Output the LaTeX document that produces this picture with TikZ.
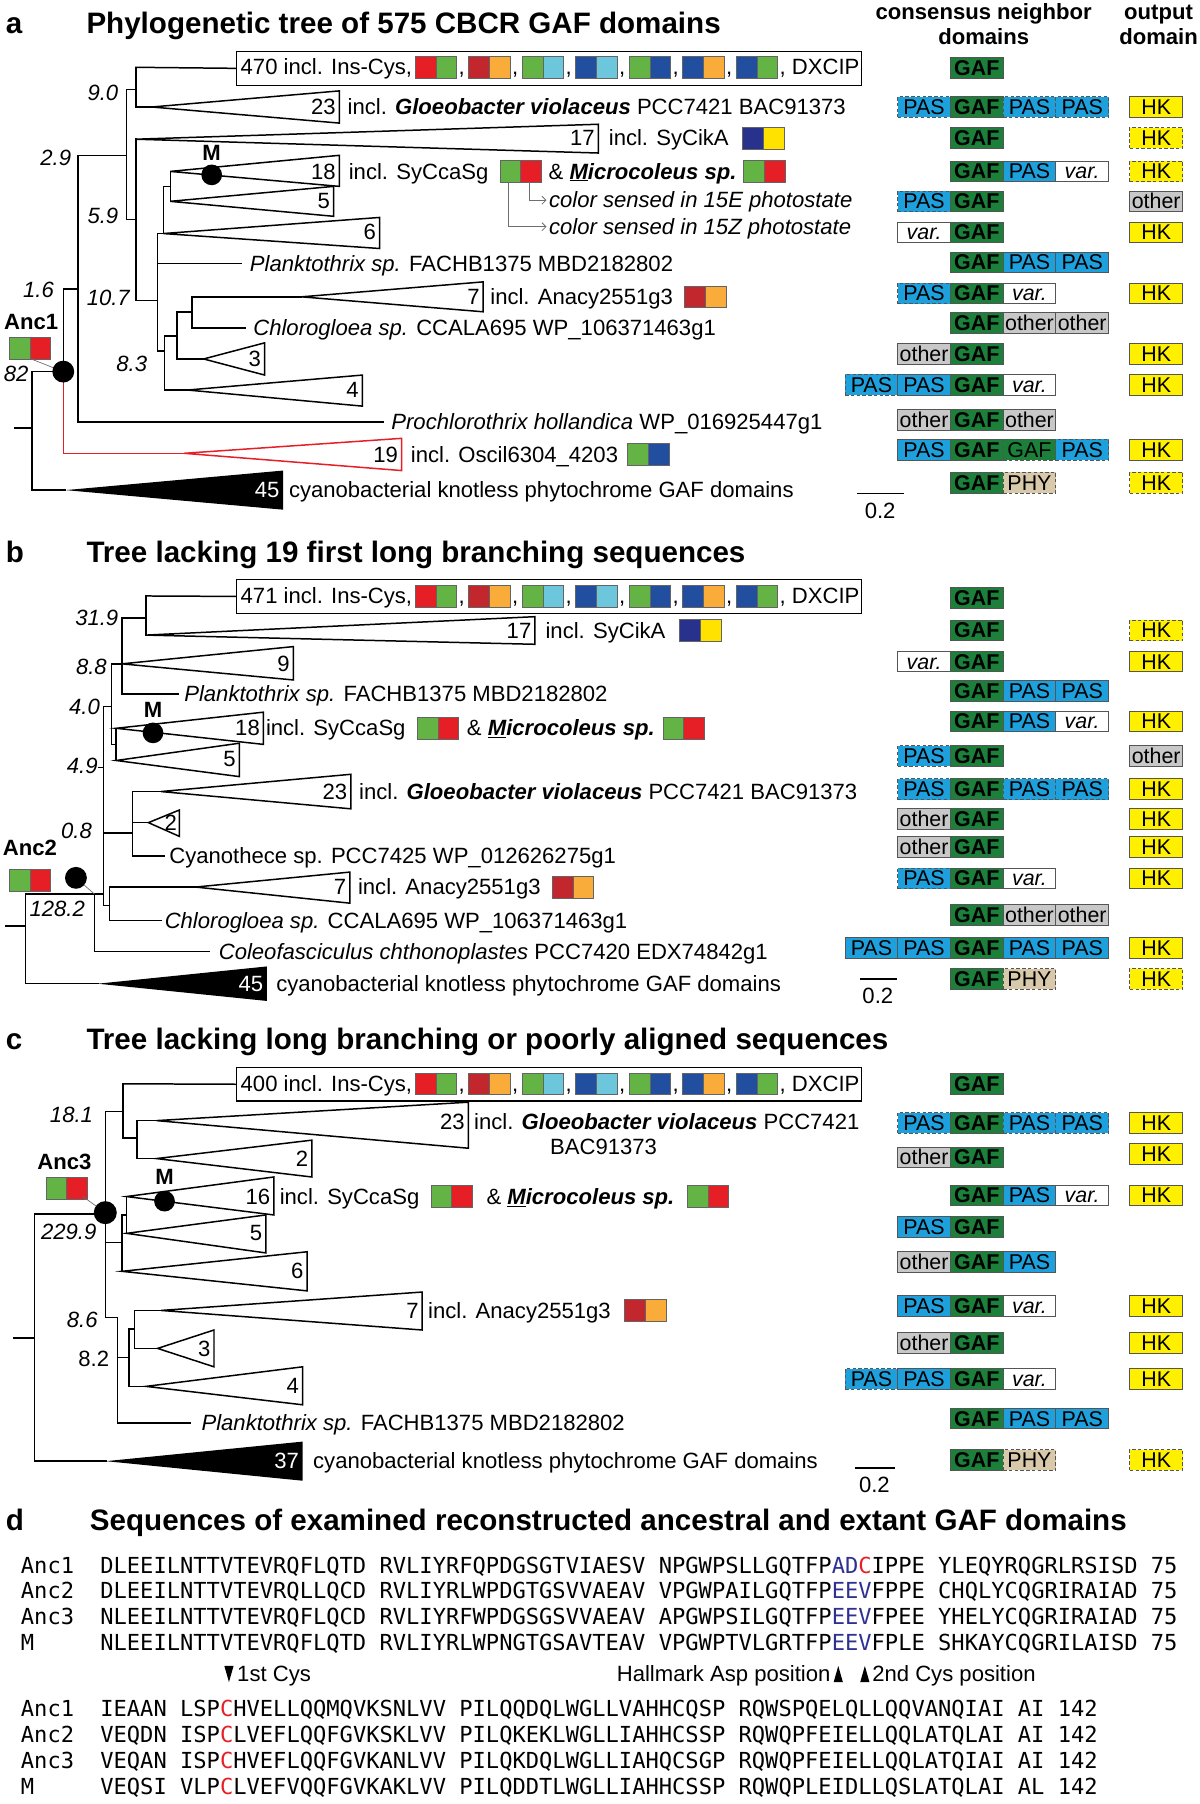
\documentclass[tikz,border=0pt]{standalone}
\usepackage{fontspec}
\setmainfont{Liberation Sans}
\newfontfamily\seqfont{DejaVu Sans Mono}
\usetikzlibrary{calc,arrows.meta}
\definecolor{redC}{RGB}{230,31,39}
\definecolor{greenC}{RGB}{99,180,68}
\definecolor{dredC}{RGB}{193,39,45}
\definecolor{orangeC}{RGB}{249,172,58}
\definecolor{lblueC}{RGB}{108,199,220}
\definecolor{blueC}{RGB}{33,78,158}
\definecolor{navyC}{RGB}{40,50,140}
\definecolor{yellowC}{RGB}{255,226,0}
\definecolor{gafC}{RGB}{28,128,58}
\definecolor{pasC}{RGB}{30,160,220}
\definecolor{othC}{RGB}{200,200,200}
\definecolor{phyC}{RGB}{216,201,170}
\definecolor{hkC}{RGB}{255,240,0}
\definecolor{bordC}{RGB}{85,85,85}
\definecolor{swbC}{RGB}{100,100,100}
\definecolor{seqB}{RGB}{46,49,146}
\definecolor{seqR}{RGB}{230,31,39}
\definecolor{leadC}{RGB}{110,110,110}
\newcommand\fsz{\fontsize{19.2pt}{23pt}\selectfont}
\newcommand\fsd{\fontsize{18.6pt}{22pt}\selectfont}
\newcommand\fttl{\fontsize{25.7pt}{30pt}\selectfont\bfseries}
\newcount\dc
\newcommand\db[4]{\global\advance\dc by 1\relax\node[#1, name=dm\the\dc] at ({826.1+45.8*(#2)},#3) {#4};}
\newcommand\hb[3]{\global\advance\dc by 1\relax\node[#1, name=hk\the\dc] at (982,#2) {#3};}
\newcommand\swat[4]{%
 \fill[#3] ($(#1)+(#2,-9.5)$) rectangle ++(18,19);
 \fill[#4] ($(#1)+(#2+18,-9.5)$) rectangle ++(18,19);
 \draw[swb] ($(#1)+(#2,-9.5)$) rectangle ++(36,19);
 \draw[swb] ($(#1)+(#2+18,-9.5)$) -- ++(0,19);
 \coordinate (swend) at ($(#1)+(#2+36,0)$);}
\newcommand\inscys[1]{%
 \swat{361,#1}{0}{redC}{greenC}\node[t] at (398.5,#1) {,};
 \swat{407.5,#1}{0}{dredC}{orangeC}\node[t] at (445,#1) {,};
 \swat{454,#1}{0}{greenC}{lblueC}\node[t] at (491.5,#1) {,};
 \swat{500.5,#1}{0}{blueC}{lblueC}\node[t] at (538,#1) {,};
 \swat{547,#1}{0}{greenC}{blueC}\node[t] at (584.5,#1) {,};
 \swat{593.5,#1}{0}{blueC}{orangeC}\node[t] at (631,#1) {,};
 \swat{640,#1}{0}{blueC}{greenC}\node[t] at (677.5,#1) {, DXCIP};}
\newcommand\micro{\& \textbf{\textit{\underline{M}icrocoleus sp.}}}
\newcommand\gloeo{incl. \textbf{\textit{Gloeobacter violaceus}} PCC7421}
\begin{document}
\begin{tikzpicture}[x=1pt,y=-1pt,font=\fsz,
 autoname/.code={\global\advance\dc by 1\relax\pgfkeysalso{name=n\the\dc}},
 t/.style={anchor=west,inner sep=0pt,text height=13.2pt,text depth=0pt,autoname},
 te/.style={t,anchor=east},
 bsl/.style={te,font=\fsz\itshape},
 hd/.style={anchor=center,inner sep=0pt,text height=13.2pt,text depth=0pt,font=\fsz\bfseries,autoname},
 ttl/.style={anchor=west,inner sep=0pt,text height=17.7pt,text depth=0pt,font=\fttl,autoname},
 tl/.style={line width=1.3pt,line cap=rect,line join=miter},
 tri/.style={draw=black,line width=1.3pt,fill=white,line join=miter},
 blk/.style={fill=black},
 boxst/.style={draw=black,line width=1.3pt,minimum width=543pt,minimum height=29.5pt,anchor=north west,inner sep=0pt},
 bdot/.style={circle,fill=black,inner sep=0pt,minimum size=18pt},
 lead/.style={draw=leadC,line width=0.6pt},
 swb/.style={draw=swbC,line width=0.6pt},
 arr/.style={draw=leadC,line width=0.7pt,-{Straight Barb[length=3.5pt,width=7pt]},shorten >=2pt},
 dsh/.style={dash pattern=on 3pt off 2pt},
 dom/.style={draw=bordC,line width=0.8pt,minimum width=45.8pt,minimum height=18pt,inner sep=0pt,outer sep=0pt,text height=13pt,text depth=0pt,anchor=west,font=\fsd},
 gaf/.style={dom,fill=gafC,font=\fsd\bfseries},
 gafd/.style={dom,fill=gafC,dsh},
 pas/.style={dom,fill=pasC},
 pasd/.style={pas,dsh},
 oth/.style={dom,fill=othC},
 var/.style={dom,fill=white,font=\fsd\itshape},
 phy/.style={dom,fill=phyC,dsh},
 hk/.style={dom,fill=hkC,minimum width=46pt},
 hkd/.style={hk,dsh},
 sq/.style={anchor=west,inner sep=0pt,text height=13.5pt,text depth=0pt,font={\seqfont\fontsize{19.2pt}{23pt}\selectfont},autoname}]
\fill[white] (0,0) rectangle (1043,1568);
\useasboundingbox (0,0) rectangle (1043,1568);

% ---------------- headers
\node[hd] at (855,10) {consensus neighbor};
\node[hd] at (855,32) {domains};
\node[hd] at (1007,10) {output};
\node[hd] at (1007,32) {domain};

% ================= PANEL A
\node[ttl] at (5,20) {a};
\node[ttl] at (75,20) {Phylogenetic tree of 575 CBCR GAF domains};
\node[boxst,name=boxa] at (205,44) {};
\node[t] at (209,58.5) {470 incl. Ins-Cys,};
\inscys{58.5}
% tree lines
\draw[tl] (13,372)--(28,372);
\draw[tl] (28,323)--(28,426);
\draw[tl] (28,323)--(55,323);
\draw[tl] (28,426)--(57,426);
\fill[blk] (57,426)--(246,409)--(246,443)--cycle;
\draw[tl] (55,251)--(55,323);
\draw[tl,draw=redC] (55,323)--(55,394)--(160,394);
\draw[tri,draw=redC] (160,394)--(349,381)--(349,409)--cycle;
\draw[tl] (55,251)--(68,251);
\draw[tl] (68,135)--(68,367)--(333,367);
\draw[tl] (68,135)--(110,135);
\draw[tl] (110,78)--(110,191);
\draw[tl] (110,78)--(118,78);
\draw[tl] (118,58.5)--(118,93);
\draw[tl] (118,58.5)--(boxa.west);
\draw[tl] (118,93)--(132,93);
\draw[tri] (132,93)--(295,79)--(295,107)--cycle;
\draw[tl] (110,191)--(118,191);
\draw[tl] (118,121)--(118,261);
\draw[tri] (118,121)--(520,108)--(520,133)--cycle;
\draw[tl] (118,261)--(137,261);
\draw[tl] (137,203)--(137,305);
\draw[tl] (137,203)--(142,203);
\draw[tl] (142,162)--(142,203);
\draw[tri] (142,203)--(330,189)--(330,216)--cycle;
\draw[tl] (142,162)--(148,162);
\draw[tl] (148,149)--(148,175);
\draw[tri] (148,149)--(295,135)--(295,162)--cycle;
\draw[tri] (148,175)--(290,162)--(290,188)--cycle;
\draw[tl] (137,229)--(210,229);
\draw[tl] (137,305)--(143,305);
\draw[tl] (143,292)--(143,339);
\draw[tl] (143,292)--(154,292);
\draw[tl] (154,271)--(154,312);
\draw[tl] (154,271)--(167,271);
\draw[tl] (167,258)--(167,285);
\draw[tl] (167,258)--(262,258);
\draw[tri] (262,258)--(420,245)--(420,271)--cycle;
\draw[tl] (167,285)--(213,285);
\draw[tl] (154,312)--(177,312);
\draw[tri] (177,312)--(230,298)--(230,326)--cycle;
\draw[tl] (143,339)--(163,339);
\draw[tri] (163,339)--(315,326)--(315,353)--cycle;
% dots
\node[bdot,name=mdota] at (184,152) {};
\node[hd] at (184,133) {M};
\node[bdot,name=anc1d,minimum size=19pt] at (55,323) {};
\node[hd,name=anc1l] at (27,280) {Anc1};
\swat{8,302.5}{0}{greenC}{redC}
\draw[lead] (27,312)--(anc1d);
% bootstrap
\node[bsl] at (103,81) {9.0};
\node[bsl] at (62,137) {2.9};
\node[bsl] at (103,188) {5.9};
\node[bsl] at (47,252) {1.6};
\node[bsl] at (113,259) {10.7};
\node[bsl] at (128,316) {8.3};
\node[bsl] at (25,325) {82};
% labels
\node[te] at (292,93) {23};
\node[t] at (302,93) {\gloeo{} BAC91373};
\node[te] at (517,120) {17};
\node[t,name=a17t] at (529,120) {incl. SyCikA};
\swat{a17t.east}{12}{navyC}{yellowC}
\node[te] at (292,149) {18};
\node[t,name=a18t] at (303,149) {incl. SyCcaSg};
\swat{a18t.east}{10}{greenC}{redC}
\node[t,name=a18m] at ($(swend)+(6,0)$) {\micro};
\swat{a18m.east}{6}{greenC}{redC}
\node[t,name=c15e,font=\fsz\itshape] at (477,174) {color sensed in 15E photostate};
\node[t,name=c15z,font=\fsz\itshape] at (477,197) {color sensed in 15Z photostate};
\draw[arr] (460,158.5) |- (c15e.west);
\draw[arr] (442,158.5) |- (c15z.west);
\node[te] at (287,175) {5};
\node[te] at (327,202) {6};
\node[t] at (217,229) {\textit{Planktothrix sp.} FACHB1375 MBD2182802};
\node[te] at (417,258) {7};
\node[t,name=a7t] at (426,258) {incl. Anacy2551g3};
\swat{a7t.east}{10}{dredC}{orangeC}
\node[t] at (220,285) {\textit{Chlorogloea sp.} CCALA695 WP\_106371463g1};
\node[te] at (227,312) {3};
\node[te] at (312,339) {4};
\node[t] at (340,367) {\textit{Prochlorothrix hollandica} WP\_016925447g1};
\node[te] at (346,395) {19};
\node[t,name=a19t] at (357,395) {incl. Oscil6304\_4203};
\swat{a19t.east}{8}{greenC}{blueC}
\node[te,text=white] at (243,426) {45};
\node[t] at (251,426) {cyanobacterial knotless phytochrome GAF domains};
% scale bar
\draw[line width=1.3pt] (745,429)--(786,429);
\node[hd,font=\fsz] at (765,444) {0.2};
% domains a
\db{gaf}{0}{59}{GAF}
\db{pasd}{-1}{93}{PAS}\db{gaf}{0}{93}{GAF}\db{pasd}{1}{93}{PAS}\db{pasd}{2}{93}{PAS}\hb{hk}{93}{HK}
\db{gaf}{0}{120}{GAF}\hb{hkd}{120}{HK}
\db{gaf}{0}{149}{GAF}\db{pas}{1}{149}{PAS}\db{var}{2}{149}{var.}\hb{hkd}{149}{HK}
\db{pasd}{-1}{175}{PAS}\db{gaf}{0}{175}{GAF}\hb{oth}{175}{other}
\db{var}{-1}{202}{var.}\db{gaf}{0}{202}{GAF}\hb{hk}{202}{HK}
\db{gaf}{0}{228}{GAF}\db{pas}{1}{228}{PAS}\db{pas}{2}{228}{PAS}
\db{pasd}{-1}{255}{PAS}\db{gaf}{0}{255}{GAF}\db{var}{1}{255}{var.}\hb{hk}{255}{HK}
\db{gaf}{0}{281}{GAF}\db{oth}{1}{281}{other}\db{oth}{2}{281}{other}
\db{oth}{-1}{307.5}{other}\db{gaf}{0}{307.5}{GAF}\hb{hk}{307.5}{HK}
\db{pasd}{-2}{334.5}{PAS}\db{pas}{-1}{334.5}{PAS}\db{gaf}{0}{334.5}{GAF}\db{var}{1}{334.5}{var.}\hb{hk}{334.5}{HK}
\db{oth}{-1}{365}{other}\db{gaf}{0}{365}{GAF}\db{oth}{1}{365}{other}
\db{pas}{-1}{391}{PAS}\db{gaf}{0}{391}{GAF}\db{gafd}{1}{391}{GAF}\db{pasd}{2}{391}{PAS}\hb{hk}{391}{HK}
\db{gaf}{0}{419.5}{GAF}\db{phy}{1}{419.5}{PHY}\hb{hkd}{419.5}{HK}

% ================= PANEL B
\node[ttl] at (5,480) {b};
\node[ttl] at (75,480) {Tree lacking 19 first long branching sequences};
\node[boxst,name=boxb] at (205,503) {};
\node[t] at (209,518) {471 incl. Ins-Cys,};
\inscys{518}
\draw[tl] (5,805)--(22,805);
\draw[tl] (22,777)--(22,855);
\draw[tl] (22,777)--(82,777);
\draw[tl] (22,855)--(85,855);
\fill[blk] (85,855)--(232,840)--(232,870)--cycle;
\draw[tl] (82,777)--(82,827)--(182,827);
\draw[tl] (82,777)--(90,777);
\draw[tl] (90,614)--(90,787);
\draw[tl] (90,787)--(95,787);
\draw[tl] (95,771)--(95,800);
\draw[tl] (95,771)--(170,771);
\draw[tri] (170,771)--(304,758)--(304,785)--cycle;
\draw[tl] (95,800)--(140,800);
\draw[tl] (90,724)--(115,724);
\draw[tl] (115,688)--(115,744);
\draw[tl] (115,688)--(140,688);
\draw[tri] (140,688)--(305,673)--(305,703)--cycle;
\draw[tl] (115,715)--(129,715);
\draw[tri] (129,715)--(156,704)--(156,727)--cycle;
\draw[tl] (115,744)--(143,744);
\draw[tl] (86,667)--(90,667);
\draw[tl] (90,614)--(97,614);
\draw[tl] (97,577)--(97,647);
\draw[tl] (97,647)--(101,647);
\draw[tl] (101,633)--(101,661);
\draw[tri] (101,633)--(229,619)--(229,647)--cycle;
\draw[tri] (101,661)--(208,646)--(208,675)--cycle;
\draw[tl] (97,577)--(106,577);
\draw[tl] (106,537)--(106,603);
\draw[tri] (106,577)--(255,562)--(255,591)--cycle;
\draw[tl] (106,603)--(155,603);
\draw[tl] (106,537)--(127,537);
\draw[tl] (127,518)--(127,552);
\draw[tl] (127,518)--(boxb.west);
\draw[tri] (127,552)--(465,536)--(465,560)--cycle;
\node[bdot,name=mdotb] at (133,637) {};
\node[hd] at (133,617) {M};
\node[hd,name=anc2l] at (26,737) {Anc2};
\swat{8,765}{0}{greenC}{redC}
\node[bdot,name=anc2d,minimum size=19pt] at (66,763) {};
\draw[lead] (anc2d)--(82,777);
\node[bsl] at (103,537) {31.9};
\node[bsl] at (93,580) {8.8};
\node[bsl] at (87,614) {4.0};
\node[bsl] at (85,666) {4.9};
\node[bsl] at (80,722) {0.8};
\node[bsl] at (74,790) {128.2};
\node[te] at (462,548) {17};
\node[t,name=b17t] at (474,548) {incl. SyCikA};
\swat{b17t.east}{12}{navyC}{yellowC}
\node[te] at (252,577) {9};
\node[t] at (160,603) {\textit{Planktothrix sp.} FACHB1375 MBD2182802};
\node[te] at (226,633) {18};
\node[t,name=b18t] at (231,633) {incl. SyCcaSg};
\swat{b18t.east}{10}{greenC}{redC}
\node[t,name=b18m] at ($(swend)+(7,0)$) {\micro};
\swat{b18m.east}{7}{greenC}{redC}
\node[te] at (205,660) {5};
\node[te] at (302,688) {23};
\node[t] at (312,688) {\gloeo{} BAC91373};
\node[te] at (154,715) {2};
\node[t] at (147,744) {Cyanothece sp. PCC7425 WP\_012626275g1};
\node[te] at (301,771) {7};
\node[t,name=b7t] at (311,771) {incl. Anacy2551g3};
\swat{b7t.east}{10}{dredC}{orangeC}
\node[t] at (143,800) {\textit{Chlorogloea sp.} CCALA695 WP\_106371463g1};
\node[t] at (190,827) {\textit{Coleofasciculus chthonoplastes} PCC7420 EDX74842g1};
\node[te,text=white] at (229,855) {45};
\node[t] at (240,855) {cyanobacterial knotless phytochrome GAF domains};
\draw[line width=1.3pt] (747.5,851)--(779.5,851);
\node[hd,font=\fsz] at (763,866) {0.2};
\db{gaf}{0}{520}{GAF}
\db{gaf}{0}{548}{GAF}\hb{hkd}{548}{HK}
\db{var}{-1}{575}{var.}\db{gaf}{0}{575}{GAF}\hb{hk}{575}{HK}
\db{gaf}{0}{600.5}{GAF}\db{pas}{1}{600.5}{PAS}\db{pas}{2}{600.5}{PAS}
\db{gaf}{0}{627}{GAF}\db{pas}{1}{627}{PAS}\db{var}{2}{627}{var.}\hb{hk}{627}{HK}
\db{pasd}{-1}{657}{PAS}\db{gaf}{0}{657}{GAF}\hb{oth}{657}{other}
\db{pasd}{-1}{686}{PAS}\db{gaf}{0}{686}{GAF}\db{pasd}{1}{686}{PAS}\db{pasd}{2}{686}{PAS}\hb{hk}{686}{HK}
\db{oth}{-1}{712}{other}\db{gaf}{0}{712}{GAF}\hb{hk}{712}{HK}
\db{oth}{-1}{736}{other}\db{gaf}{0}{736}{GAF}\hb{hk}{736}{HK}
\db{pasd}{-1}{763.5}{PAS}\db{gaf}{0}{763.5}{GAF}\db{var}{1}{763.5}{var.}\hb{hk}{763.5}{HK}
\db{gaf}{0}{795}{GAF}\db{oth}{1}{795}{other}\db{oth}{2}{795}{other}
\db{pas}{-2}{824}{PAS}\db{pas}{-1}{824}{PAS}\db{gaf}{0}{824}{GAF}\db{pas}{1}{824}{PAS}\db{pas}{2}{824}{PAS}\hb{hk}{824}{HK}
\db{gaf}{0}{851}{GAF}\db{phy}{1}{851}{PHY}\hb{hkd}{851}{HK}

% ================= PANEL C
\node[ttl] at (5,903) {c};
\node[ttl] at (75,903) {Tree lacking long branching or poorly aligned sequences};
\node[boxst,name=boxc] at (205,927) {};
\node[t] at (209,942) {400 incl. Ins-Cys,};
\inscys{942}
\draw[tl] (12,1163)--(30,1163);
\draw[tl] (30,1055)--(30,1270);
\draw[tl] (30,1055)--(91.5,1055);
\draw[tl] (30,1270)--(92,1270);
\fill[blk] (92,1270)--(263,1253)--(263,1287)--cycle;
\draw[tl] (91.5,966)--(91.5,1145);
\draw[tl] (91.5,966)--(107,966);
\draw[tl] (107,942)--(107,989);
\draw[tl] (107,942)--(boxc.west);
\draw[tl] (107,989)--(119,989);
\draw[tl] (119,974)--(119,1007);
\draw[tl] (119,974)--(136,974);
\draw[tri] (136,974)--(407,958)--(407,998)--cycle;
\draw[tl] (119,1007)--(136,1007);
\draw[tri] (136,1007)--(271,991)--(271,1023)--cycle;
\draw[tl] (91.5,1080)--(106,1080);
\draw[tl] (106,1056)--(106,1105);
\draw[tl] (106,1056)--(110,1056);
\draw[tl] (110,1040)--(110,1072);
\draw[tri] (110,1040)--(238,1023)--(238,1056)--cycle;
\draw[tri] (110,1072)--(231,1056)--(231,1089)--cycle;
\draw[tri] (106,1105)--(267,1088)--(267,1122)--cycle;
\draw[tl] (91.5,1145)--(102,1145);
\draw[tl] (102,1145)--(102,1237)--(165,1237);
\draw[tl] (102,1180)--(112,1180);
\draw[tl] (112,1155)--(112,1205);
\draw[tl] (112,1155)--(117,1155);
\draw[tl] (117,1139)--(117,1172);
\draw[tl] (117,1139)--(140,1139);
\draw[tri] (140,1139)--(367,1123)--(367,1156)--cycle;
\draw[tl] (117,1172)--(137,1172);
\draw[tri] (137,1172)--(186,1156)--(186,1188)--cycle;
\draw[tl] (112,1205)--(127,1205);
\draw[tri] (127,1205)--(263,1188)--(263,1221)--cycle;
\node[bdot,name=mdotc] at (143,1044) {};
\node[hd] at (143,1023) {M};
\node[hd,name=anc3l] at (56,1010) {Anc3};
\swat{40,1033}{0}{greenC}{redC}
\node[bdot,name=anc3d,minimum size=20pt] at (91.5,1054) {};
\draw[lead] (72,1040)--(anc3d);
\node[bsl] at (81,969) {18.1};
\node[bsl] at (84,1071) {229.9};
\node[bsl] at (85,1147) {8.6};
\node[te] at (95,1181) {8.2};
\node[te] at (404,975) {23};
\node[t] at (412,975) {\gloeo};
\node[t] at (478,997) {BAC91373};
\node[te] at (268,1007) {2};
\node[te] at (235,1040) {16};
\node[t,name=c16t] at (243,1040) {incl. SyCcaSg};
\swat{c16t.east}{10}{greenC}{redC}
\node[t,name=c16m] at ($(swend)+(12,0)$) {\micro};
\swat{c16m.east}{11}{greenC}{redC}
\node[te] at (228,1072) {5};
\node[te] at (264,1105) {6};
\node[te] at (364,1139) {7};
\node[t,name=c7t] at (372,1139) {incl. Anacy2551g3};
\swat{c7t.east}{12}{dredC}{orangeC}
\node[te] at (183,1172) {3};
\node[te] at (260,1205) {4};
\node[t] at (175,1237) {\textit{Planktothrix sp.} FACHB1375 MBD2182802};
\node[te,text=white] at (260,1270) {37};
\node[t] at (272,1270) {cyanobacterial knotless phytochrome GAF domains};
\draw[line width=1.3pt] (743,1276)--(778,1276);
\node[hd,font=\fsz] at (760,1291) {0.2};
\db{gaf}{0}{942}{GAF}
\db{pasd}{-1}{976}{PAS}\db{gaf}{0}{976}{GAF}\db{pasd}{1}{976}{PAS}\db{pasd}{2}{976}{PAS}\hb{hk}{976}{HK}
\db{oth}{-1}{1006}{other}\db{gaf}{0}{1006}{GAF}\hb{hk}{1003}{HK}
\db{gaf}{0}{1039}{GAF}\db{pas}{1}{1039}{PAS}\db{var}{2}{1039}{var.}\hb{hk}{1039}{HK}
\db{pas}{-1}{1066.7}{PAS}\db{gaf}{0}{1066.7}{GAF}
\db{oth}{-1}{1097}{other}\db{gaf}{0}{1097}{GAF}\db{pas}{1}{1097}{PAS}
\db{pas}{-1}{1135}{PAS}\db{gaf}{0}{1135}{GAF}\db{var}{1}{1135}{var.}\hb{hk}{1135}{HK}
\db{oth}{-1}{1167}{other}\db{gaf}{0}{1167}{GAF}\hb{hk}{1167}{HK}
\db{pasd}{-2}{1198.6}{PAS}\db{pas}{-1}{1198.6}{PAS}\db{gaf}{0}{1198.6}{GAF}\db{var}{1}{1198.6}{var.}\hb{hk}{1198.6}{HK}
\db{gaf}{0}{1233}{GAF}\db{pas}{1}{1233}{PAS}\db{pas}{2}{1233}{PAS}
\db{gaf}{0}{1269}{GAF}\db{phy}{1}{1269}{PHY}\hb{hkd}{1269}{HK}

% ================= PANEL D
\node[ttl] at (5,1321) {d};
\node[ttl] at (78,1321) {Sequences of examined reconstructed ancestral and extant GAF domains};
\node[sq] at (18,1361) {Anc1};
\node[sq] at (87,1361) {DLEEILNTTVTEVRQFLQTD RVLIYRFQPDGSGTVIAESV NPGWPSLLGQTFP\textcolor{seqB}{AD}\textcolor{seqR}{C}IPPE YLEQYRQGRLRSISD 75};
\node[sq] at (18,1383) {Anc2};
\node[sq] at (87,1383) {DLEEILNTTVTEVRQLLQCD RVLIYRLWPDGTGSVVAEAV VPGWPAILGQTFP\textcolor{seqB}{EEV}FPPE CHQLYCQGRIRAIAD 75};
\node[sq] at (18,1405) {Anc3};
\node[sq] at (87,1405) {NLEEILNTTVTEVRQFLQCD RVLIYRFWPDGSGSVVAEAV APGWPSILGQTFP\textcolor{seqB}{EEV}FPEE YHELYCQGRIRAIAD 75};
\node[sq] at (18,1428) {M};
\node[sq] at (87,1428) {NLEEILNTTVTEVRQFLQTD RVLIYRLWPNGTGSAVTEAV VPGWPTVLGRTFP\textcolor{seqB}{EEV}FPLE SHKAYCQGRILAISD 75};
\fill[blk] (195,1448)--(203,1448)--(199,1462)--cycle;
\node[t] at (206,1455) {1st Cys};
\node[te] at (722,1455) {Hallmark Asp position};
\fill[blk] (724.6,1462)--(732.6,1462)--(728.6,1448)--cycle;
\fill[blk] (747.7,1462)--(755.7,1462)--(751.7,1448)--cycle;
\node[t] at (758,1455) {2nd Cys position};
\node[sq] at (18,1485) {Anc1};
\node[sq] at (87,1485) {IEAAN LSP\textcolor{seqR}{C}HVELLQQMQVKSNLVV PILQQDQLWGLLVAHHCQSP RQWSPQELQLLQQVANQIAI AI 142};
\node[sq] at (18,1508) {Anc2};
\node[sq] at (87,1508) {VEQDN ISP\textcolor{seqR}{C}LVEFLQQFGVKSKLVV PILQKEKLWGLLIAHHCSSP RQWQPFEIELLQQLATQLAI AI 142};
\node[sq] at (18,1530) {Anc3};
\node[sq] at (87,1530) {VEQAN ISP\textcolor{seqR}{C}HVEFLQQFGVKANLVV PILQKDQLWGLLIAHQCSGP RQWQPFEIELLQQLATQIAI AI 142};
\node[sq] at (18,1553) {M};
\node[sq] at (87,1553) {VEQSI VLP\textcolor{seqR}{C}LVEFVQQFGVKAKLVV PILQDDTLWGLLIAHHCSSP RQWQPLEIDLLQSLATQLAI AL 142};
\end{tikzpicture}
\end{document}
